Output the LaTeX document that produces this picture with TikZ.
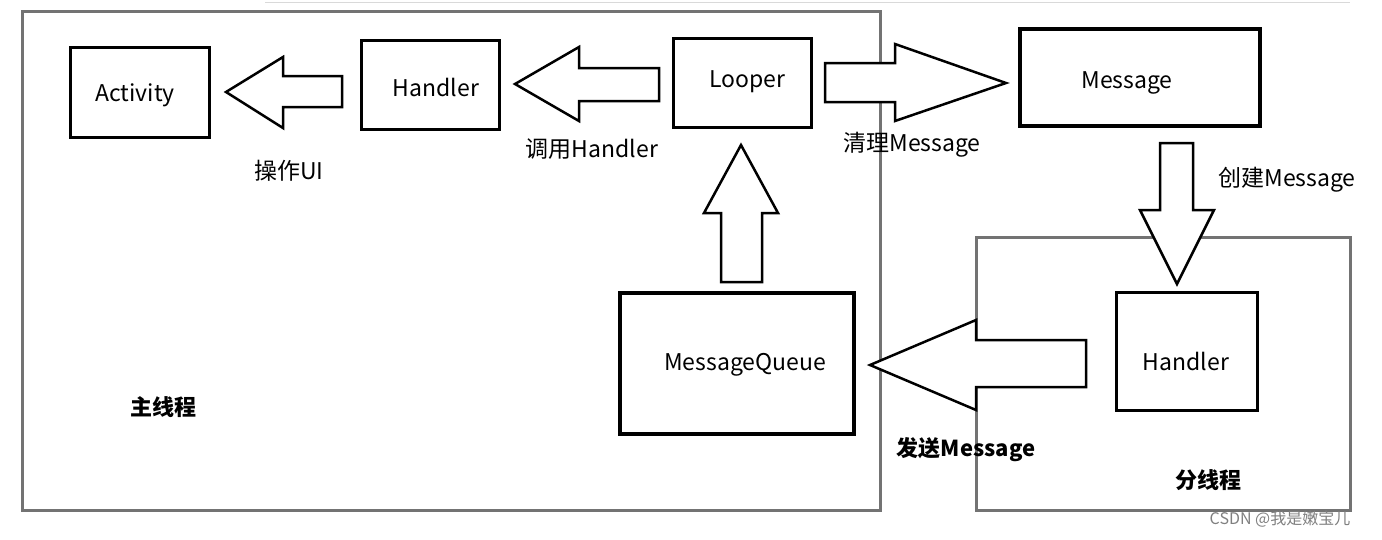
\documentclass[tikz,border=0pt]{standalone}
\usepackage{fontspec}
\setmainfont{Noto Sans CJK SC}
\begin{document}
\begin{tikzpicture}[x=1pt,y=-1pt,
  gbox/.style={draw=gray!90!black,line width=3pt},
  bbox/.style={draw=black,line width=3pt},
  tbox/.style={draw=black,line width=4.5pt},
  blk/.style={draw=black,line width=2.5pt,line join=miter,fill=white},
  lab/.style={font=\fontsize{23}{26}\selectfont},
  blab/.style={font=\fontsize{22}{25}\selectfont\bfseries}]
\useasboundingbox (0,0) rectangle (1382,539);
\draw[gray!30,line width=1pt] (265,2) -- (1350,2);
\draw[gbox] (22,11) rectangle (880,510);
\draw[gbox] (976,237) rectangle (1350,510);
\draw[bbox] (70,47) rectangle (209,137); \node[lab] (act) at (135,95) {Activity};
\draw[bbox] (361,40) rectangle (499,129); \node[lab] (h1) at (436,87) {Handler};
\draw[bbox] (673,38) rectangle (811,127); \node[lab] (loop) at (747,82) {Looper};
\draw[tbox] (1020,29) rectangle (1260,126); \node[lab] (msg) at (1127,83) {Message};
\draw[tbox] (620,293) rectangle (854,434); \node[lab] (mq) at (745,365) {MessageQueue};
\draw[bbox] (1116,292) rectangle (1257,410); \node[lab] (h2) at (1186,361) {Handler};
% block arrows
\draw[blk] (226,92) -- (283,57) -- (283,76) -- (342,76) -- (342,107) -- (283,107) -- (283,128) -- cycle;
\draw[blk] (515,84) -- (579,47) -- (579,68) -- (659,68) -- (659,101) -- (579,101) -- (579,121) -- cycle;
\draw[blk] (1006,83) -- (895,44) -- (895,63) -- (825,63) -- (825,102) -- (895,102) -- (895,121) -- cycle;
\draw[blk] (741,145) -- (778,213) -- (762,213) -- (762,282) -- (721,282) -- (721,213) -- (704,213) -- cycle;
\draw[blk] (1177,284) -- (1214,210) -- (1193,210) -- (1193,143) -- (1160,143) -- (1160,210) -- (1140,210) -- cycle;
\draw[blk] (870,365) -- (976,320) -- (976,340) -- (1086,340) -- (1086,387) -- (976,387) -- (976,410) -- cycle;
\node[lab] (l1) at (289,171) {操作UI};
\node[lab] (l2) at (592,149) {调用Handler};
\node[lab] (l3) at (912,145) {清理Message};
\node[lab] (l4) at (1287,180) {创建Message};
\node[blab] (l5) at (163,407) {主线程};
\node[blab] (l6) at (966,450) {发送Message};
\node[blab] (l7) at (1208,480) {分线程};
\node[font=\fontsize{16}{18}\selectfont,text=gray] (l8) at (1280,519) {CSDN @我是嫩宝儿};
\end{tikzpicture}
\end{document}
